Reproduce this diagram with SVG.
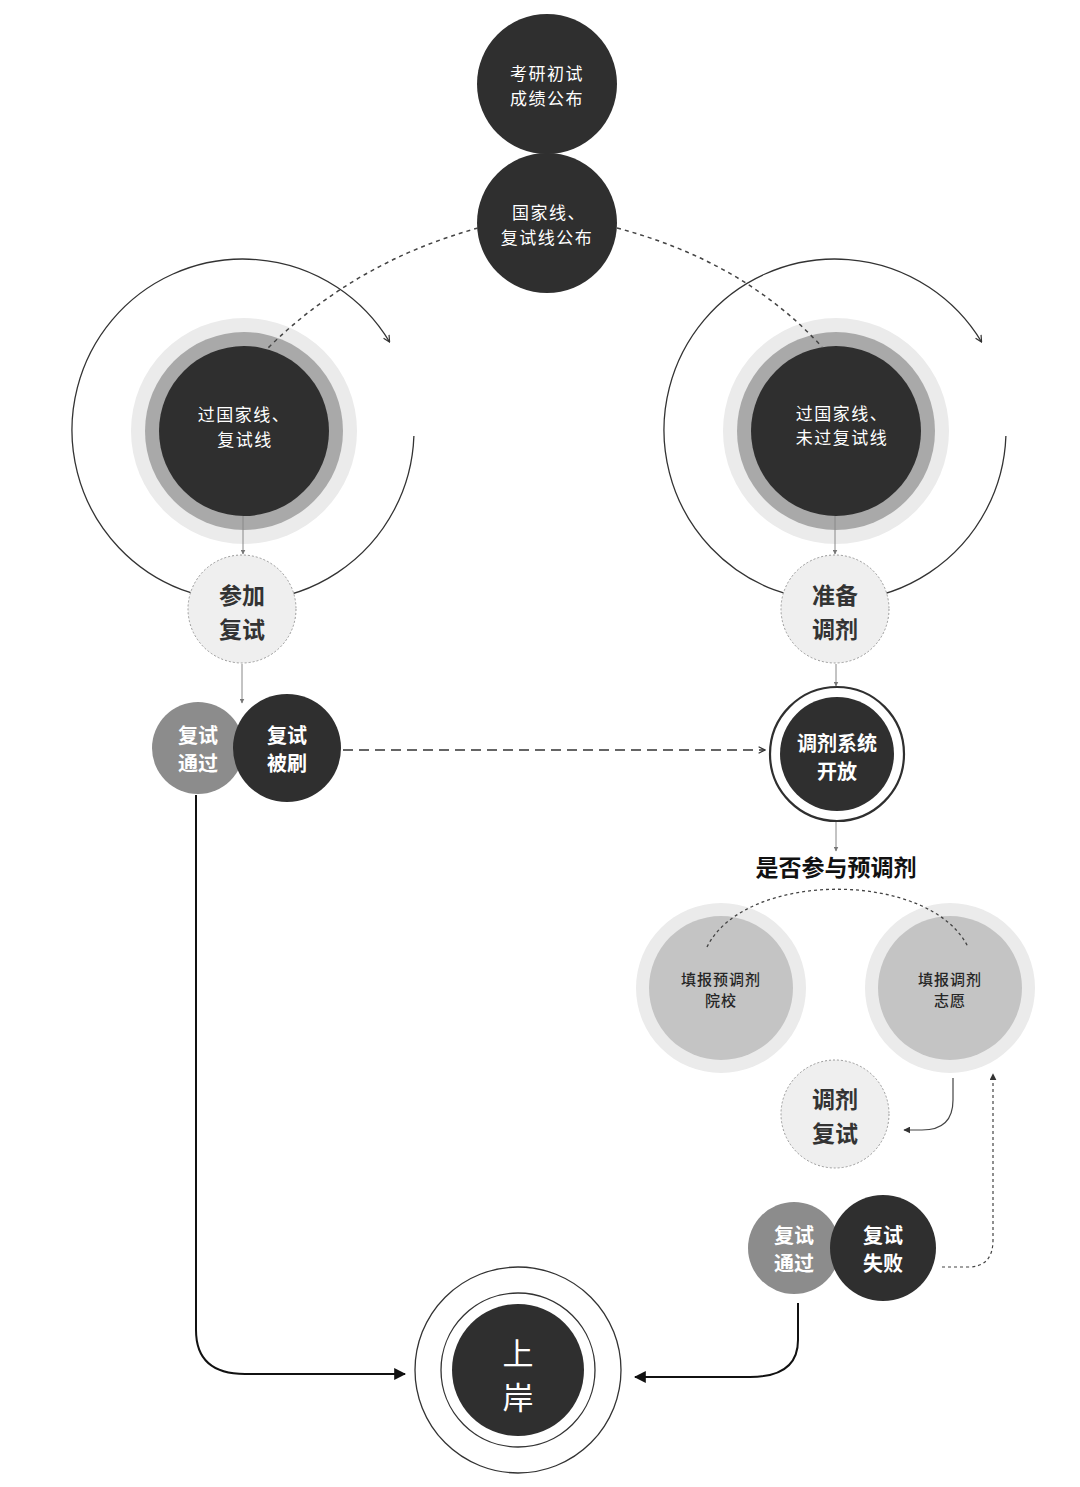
<svg xmlns="http://www.w3.org/2000/svg" width="1080" height="1487" viewBox="0 0 1080 1487">
<style>
text{font-family:"Noto Sans CJK SC","Noto Sans",sans-serif;text-anchor:middle;dominant-baseline:central}
.w{fill:#fff;font-size:17px;letter-spacing:1.5px}
.wb{fill:#fff;font-size:20px;font-weight:bold}
.db{fill:#333;font-size:23px;font-weight:bold}
.dm{fill:#262626;font-size:15px;letter-spacing:1px;font-weight:500}
.dark{fill:#2f2f2f}
.mid{fill:#8c8c8c}
.ring1{fill:#ebebeb}
.ring2{fill:#a9a9a9}
.dot{fill:#efefef;stroke:#9a9a9a;stroke-width:1;stroke-dasharray:2,2}
.cyc{fill:none;stroke:#333;stroke-width:1.3}
.thin{fill:none;stroke:#888;stroke-width:1}
.dash{fill:none;stroke:#444;stroke-width:1.5;stroke-dasharray:4,4}
.thick{fill:none;stroke:#111;stroke-width:2}
</style>
<defs>
<marker id="ah" viewBox="0 0 10 10" refX="9" refY="5" markerWidth="8" markerHeight="8" markerUnits="userSpaceOnUse" orient="auto"><path d="M1,1 L9,5 L1,9" fill="none" stroke="#333" stroke-width="1.5"/></marker>
<marker id="sm" viewBox="0 0 10 10" refX="9" refY="5" markerWidth="5" markerHeight="5" markerUnits="userSpaceOnUse" orient="auto"><path d="M0,0 L10,5 L0,10 z" fill="#777"/></marker>
<marker id="tri" viewBox="0 0 10 10" refX="9" refY="5" markerWidth="12" markerHeight="12" markerUnits="userSpaceOnUse" orient="auto"><path d="M0,0 L10,5 L0,10 z" fill="#111"/></marker>
<marker id="tri2" viewBox="0 0 10 10" refX="9" refY="5" markerWidth="7" markerHeight="7" markerUnits="userSpaceOnUse" orient="auto"><path d="M0,0 L10,5 L0,10 z" fill="#333"/></marker>
</defs>
<rect width="1080" height="1487" fill="#fff"/>
<g id="cycles">
<path class="cyc" d="M413.9,436 A171,171 0 1 1 389.6,342" marker-end="url(#ah)"/>
<path class="cyc" d="M1005.9,436 A171,171 0 1 1 981.6,342" marker-end="url(#ah)"/>
</g>
<g id="n-score">
<circle class="dark" cx="547" cy="84" r="70"/>
<text class="w" x="547" y="72">考研初试</text>
<text class="w" x="547" y="97">成绩公布</text>
</g>
<g id="n-line">
<circle class="dark" cx="547" cy="223" r="70"/>
<text class="w" x="549" y="211">国家线、</text>
<text class="w" x="547" y="236">复试线公布</text>
</g>
<g id="n-pass">
<circle class="ring1" cx="244" cy="431" r="113"/>
<circle class="ring2" cx="244" cy="431" r="99"/>
<circle class="dark" cx="244" cy="431" r="85"/>
<text class="w" x="244" y="413">过国家线、</text>
<text class="w" x="245" y="438">复试线</text>
</g>
<g id="n-fail">
<circle class="ring1" cx="836" cy="431" r="113"/>
<circle class="ring2" cx="836" cy="431" r="99"/>
<circle class="dark" cx="836" cy="431" r="85"/>
<text class="w" x="842" y="412">过国家线、</text>
<text class="w" x="842" y="436">未过复试线</text>
</g>
<g id="n-join">
<circle class="dot" cx="242" cy="609" r="54"/>
<text class="db" x="242" y="594">参加</text>
<text class="db" x="242" y="628">复试</text>
</g>
<g id="n-prep">
<circle class="dot" cx="835" cy="609" r="54"/>
<text class="db" x="835" y="594">准备</text>
<text class="db" x="835" y="628">调剂</text>
</g>
<g id="n-ok1">
<circle class="mid" cx="198" cy="748" r="46"/>
<text class="wb" x="198" y="734">复试</text>
<text class="wb" x="198" y="762">通过</text>
</g>
<g id="n-out1">
<circle class="dark" cx="287" cy="748" r="54"/>
<text class="wb" x="287" y="734">复试</text>
<text class="wb" x="287" y="762">被刷</text>
</g>
<g id="n-sys">
<circle cx="837" cy="754" r="67" fill="#fff" stroke="#2f2f2f" stroke-width="2.2"/>
<circle class="dark" cx="837" cy="754" r="57"/>
<text class="wb" x="837" y="742">调剂系统</text>
<text class="wb" x="837" y="770">开放</text>
</g>
<g id="n-q">
<text x="836" y="866" style="fill:#111;font-size:23px;font-weight:bold">是否参与预调剂</text>
</g>
<g id="n-pre">
<circle class="ring1" cx="721" cy="988" r="85"/>
<circle cx="721" cy="988" r="72" fill="#c4c4c4"/>
<text class="dm" x="721" y="978">填报预调剂</text>
<text class="dm" x="721" y="999">院校</text>
</g>
<g id="n-wish">
<circle class="ring1" cx="950" cy="988" r="85"/>
<circle cx="950" cy="988" r="72" fill="#c4c4c4"/>
<text class="dm" x="950" y="978">填报调剂</text>
<text class="dm" x="950" y="999">志愿</text>
</g>
<g id="n-retest">
<circle class="dot" cx="835" cy="1114" r="54"/>
<text class="db" x="835" y="1098">调剂</text>
<text class="db" x="835" y="1132">复试</text>
</g>
<g id="n-ok2">
<circle class="mid" cx="794" cy="1248" r="46"/>
<text class="wb" x="794" y="1234">复试</text>
<text class="wb" x="794" y="1262">通过</text>
</g>
<g id="n-out2">
<circle class="dark" cx="883" cy="1248" r="53"/>
<text class="wb" x="883" y="1234">复试</text>
<text class="wb" x="883" y="1262">失败</text>
</g>
<g id="n-land">
<circle cx="518" cy="1370" r="103" fill="#fff" stroke="#333" stroke-width="1.3"/>
<circle cx="518" cy="1370" r="77" fill="#fff" stroke="#333" stroke-width="1.3"/>
<circle class="dark" cx="518" cy="1370" r="66"/>
<text x="518" y="1351" style="fill:#fff;font-size:31px">上</text>
<text x="518" y="1395" style="fill:#fff;font-size:31px">岸</text>
</g>
<g id="connectors">
<path class="dash" d="M478,228 Q355,262 268,348"/>
<path class="dash" d="M617,228 Q745,262 822,347"/>
<path class="thin" d="M243,516 V554" marker-end="url(#sm)"/>
<path class="thin" d="M835,516 V554" marker-end="url(#sm)"/>
<path class="thin" d="M242,664 V703" marker-end="url(#sm)"/>
<path class="thin" d="M836,664 V686" marker-end="url(#sm)"/>
<path class="thin" d="M836,822 V851" marker-end="url(#sm)"/>
<path d="M343,750 H765" fill="none" stroke="#333" stroke-width="1.5" stroke-dasharray="10,6" marker-end="url(#ah)"/>
<path class="dash" d="M707,947 C745,870 930,870 968,947" style="stroke-width:1.3;stroke-dasharray:3,3"/>
<path d="M953,1078 V1100 Q953,1130 922,1130 H904" fill="none" stroke="#444" stroke-width="1.2" marker-end="url(#tri2)"/>
<path class="dash" d="M942,1267 H968 Q993,1267 993,1240 V1074" style="stroke-width:1.2;stroke-dasharray:3,3" marker-end="url(#tri2)"/>
<path class="thick" d="M196,795 V1330 Q196,1374 245,1374 H405" marker-end="url(#tri)"/>
<path class="thick" d="M798,1303 V1340 Q798,1377 750,1377 H635" marker-end="url(#tri)"/>
</g>
</svg>
